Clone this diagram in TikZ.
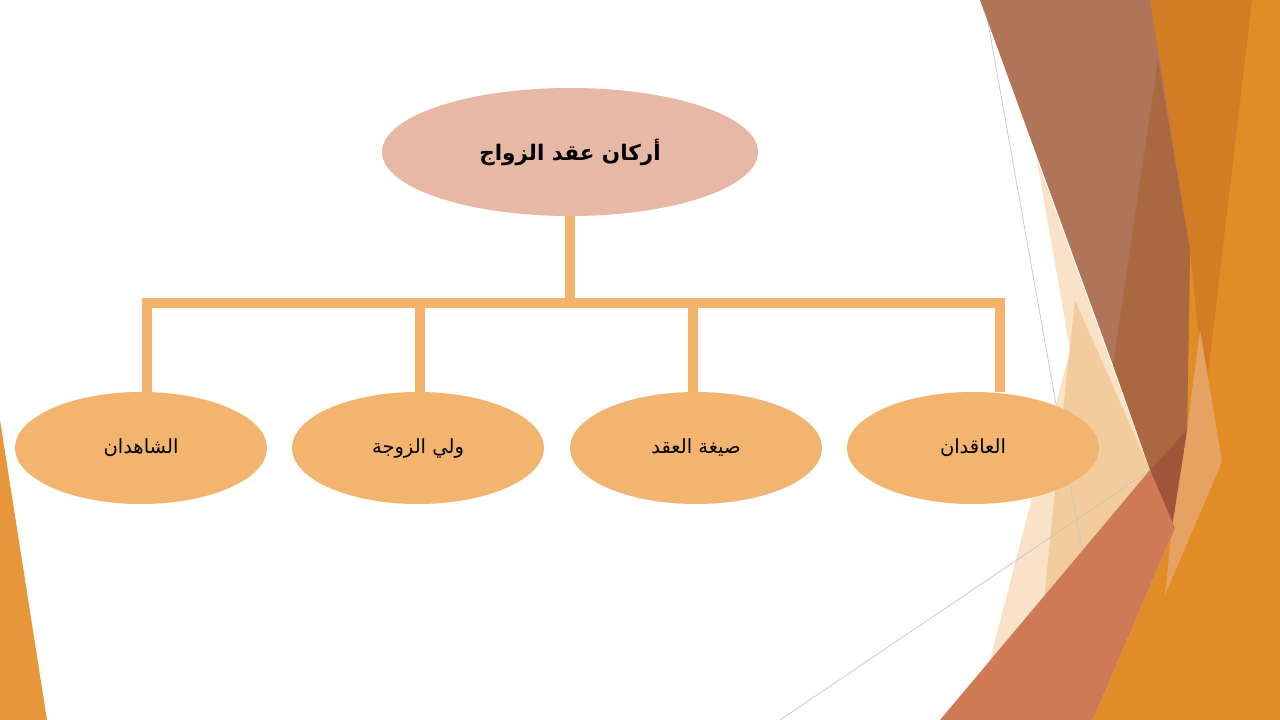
\documentclass[tikz,border=0pt]{standalone}
\usepackage{fontspec}
\newfontfamily\arabicfont[Script=Arabic]{DejaVu Sans}
\TeXXeTstate=1
\usetikzlibrary{shapes.geometric}
\definecolor{rootfill}{HTML}{E8B8A6}
\definecolor{pillarfill}{HTML}{F2B46E}
\definecolor{branchline}{HTML}{F3B36B}
\definecolor{brown}{HTML}{B07458}
\definecolor{browndark}{HTML}{A9683F}
\definecolor{browntip}{HTML}{A0553A}
\definecolor{orangedark}{HTML}{D27D24}
\definecolor{orangebright}{HTML}{E28C28}
\definecolor{orangelight}{HTML}{E6A262}
\definecolor{salmon}{HTML}{CD7A55}
\definecolor{cream}{HTML}{F9E2C8}
\definecolor{peach}{HTML}{F3CC9E}
\definecolor{leftorange}{HTML}{E8963A}
\begin{document}
\begin{tikzpicture}[x=1pt, y=-1pt,
	root/.style={ellipse, fill=rootfill, minimum width=376pt, minimum height=128pt, inner sep=0pt, font=\arabicfont\bfseries\fontsize{21.5}{26}\selectfont},
	pillar/.style={ellipse, fill=pillarfill, minimum width=252pt, minimum height=112pt, inner sep=0pt, font=\arabicfont\fontsize{19.5}{24}\selectfont},
	branch/.style={draw=branchline, line width=10pt, line join=miter},
	facet/.style={draw=gray!45, line width=0.7pt}]
	\useasboundingbox[fill=white] (0,0) rectangle (1280,720);
	% background facets
	\fill[orangebright] (1150,0) -- (1280,0) -- (1280,720) -- (1093,720) -- (1175,528) -- cycle;
	\fill[cream] (1037,160) -- (1070,350) -- (985,680) -- (1100,600) -- (1150,470) -- cycle;
	\fill[peach] (1075,300) -- (1150,470) -- (1040,640) -- (1062,420) -- cycle;
	\draw[facet] (984,0) -- (1082,550);
	\draw[facet] (780,720) -- (1150,470);
	\fill[orangedark] (1150,0) -- (1252,0) -- (1205,400) -- (1190,250) -- cycle;
	\fill[orangelight] (1200,330) -- (1222,462) -- (1165,595) -- (1172,527) -- (1187,430) -- cycle;
	\fill[brown] (980,0) -- (1150,0) -- (1190,250) -- (1187,430) -- (1172,527) -- cycle;
	\fill[browndark] (1158,60) -- (1190,250) -- (1187,430) -- (1150,470) -- (1113,365) -- cycle;
	\fill[browntip] (1150,470) -- (1187,430) -- (1172,527) -- cycle;
	\fill[salmon] (940,720) -- (1150,470) -- (1175,528) -- (1093,720) -- cycle;
	\fill[leftorange] (0,420) -- (47,720) -- (0,720) -- cycle;
	% nodes
	\node[root] (arkan) at (570,152) {\beginR أركان عقد الزواج\endR};
	\node[pillar] (shahidan) at (141,448) {\beginR الشاهدان\endR};
	\node[pillar] (wali) at (418,448) {\beginR ولي الزوجة\endR};
	\node[pillar] (sigha) at (696,448) {\beginR صيغة العقد\endR};
	\node[pillar] (aqidan) at (973,448) {\beginR العاقدان\endR};
	% connectors
	\coordinate (hub) at (570,303);
	\draw[branch] (arkan.south) -- (hub);
	\foreach \n/\dx in {shahidan/6, wali/2, sigha/-3, aqidan/27}
		\draw[branch] (hub) -| ([xshift=\dx pt]\n.north);
\end{tikzpicture}
\end{document}
